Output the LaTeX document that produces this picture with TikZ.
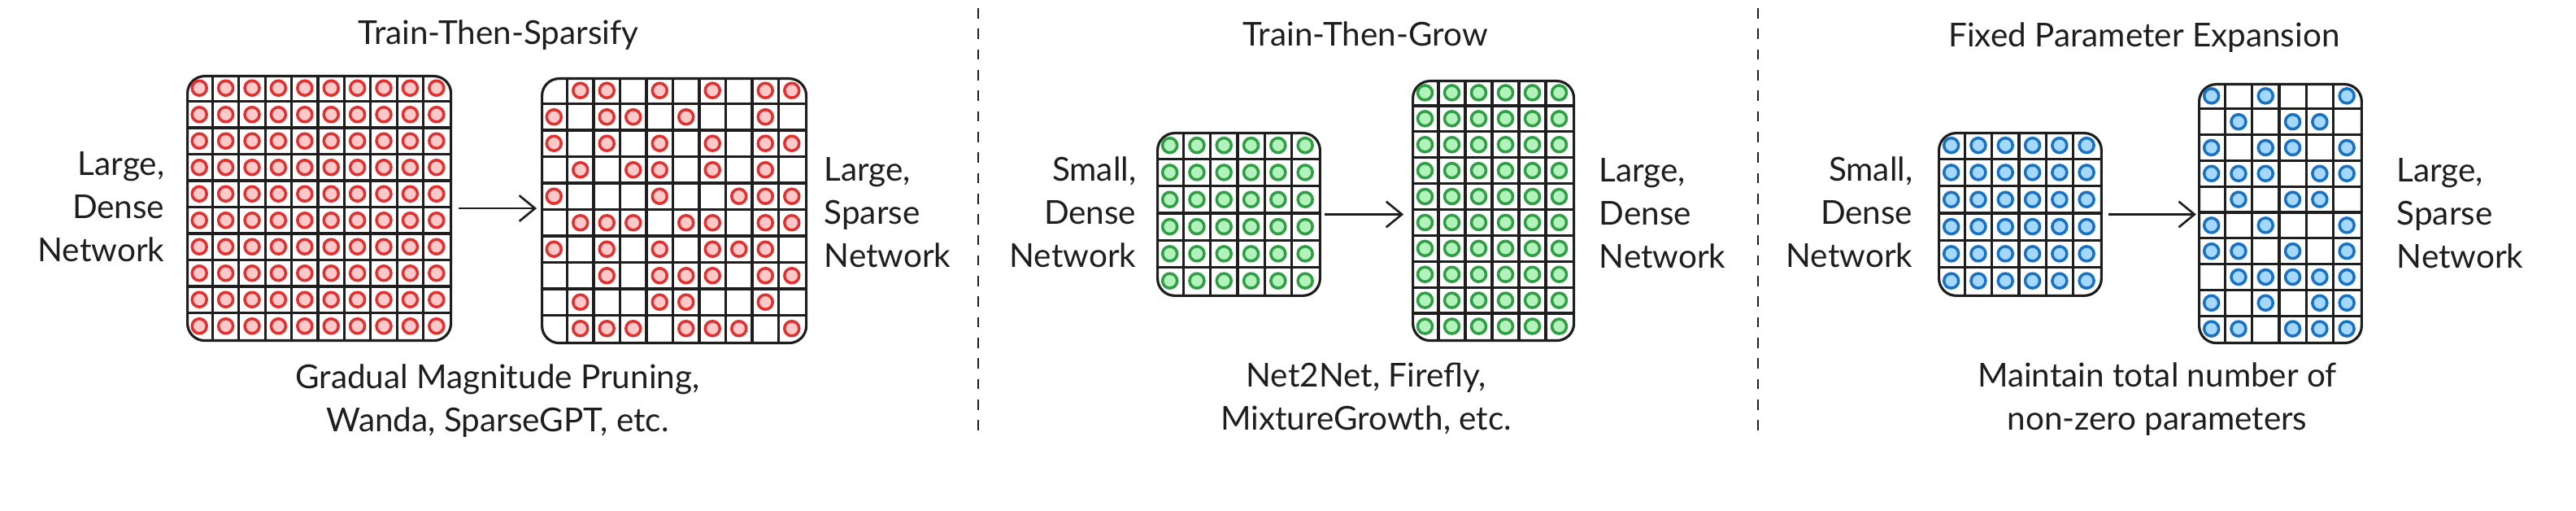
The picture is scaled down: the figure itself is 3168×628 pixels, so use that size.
\documentclass[tikz,border=0pt]{standalone}
\usepackage{fontspec}
\setmainfont{Lato}
\usetikzlibrary{arrows.meta,calc}
\definecolor{redS}{HTML}{E03131}
\definecolor{redF}{HTML}{FFC9C9}
\definecolor{grnS}{HTML}{2F9E44}
\definecolor{grnF}{HTML}{B2F2BB}
\definecolor{bluS}{HTML}{1971C2}
\definecolor{bluF}{HTML}{A5D8FF}
\definecolor{ink}{HTML}{1E1E1E}

\newcommand{\gridnet}[7]{%
  \node[netbox, anchor=north west, minimum width={#4*#6*0.01cm}, minimum height={#5*#7*0.01cm}] (#1) at (#2,#3) {};
  \pgfmathtruncatemacro\gnA{#4-1}%
  \pgfmathtruncatemacro\gnB{#5-1}%
  \foreach \i in {1,...,\gnA} \draw[gridline] ({#2+\i*#6},#3) -- ({#2+\i*#6},{#3+#5*#7});
  \foreach \j in {1,...,\gnB} \draw[gridline] (#2,{#3+\j*#7}) -- ({#2+#4*#6},{#3+\j*#7});
}
\newcommand{\densedots}[7]{%
  \foreach \r in {1,...,#4} \foreach \c in {1,...,#3}
    \draw[#7] ({#1+(\c-0.5)*#5},{#2+(\r-0.5)*#6}) circle[radius=9];
}
\newcommand{\sparsedots}[6]{%
  \foreach \r/\cl in {#6} \foreach \c in \cl
    \draw[#5] ({#1+(\c-0.5)*#3},{#2+(\r-0.5)*#4}) circle[radius=9];
}

\tikzset{
  netbox/.style={draw=ink, fill=white, line width=0.9pt, rounded corners=6pt, inner sep=0pt},
  gridline/.style={draw=ink, line width=0.95pt},
  rdot/.style={draw=redS, fill=redF, line width=1pt},
  gdot/.style={draw=grnS, fill=grnF, line width=1pt},
  bdot/.style={draw=bluS, fill=bluF, line width=1pt},
  arr/.style={draw=ink, line width=0.75pt, -{Straight Barb[length=5.5pt,width=9pt]}},
  lbl/.style={font=\fontsize{11.5}{15.1}\selectfont, text=ink, inner sep=0pt},
  divider/.style={draw=ink, line width=0.75pt, dash pattern=on 3.6pt off 3.6pt},
}

\begin{document}
\begin{tikzpicture}[x=0.01cm, y=-0.01cm]
\useasboundingbox (0,0) rectangle (3168,628);

% dividers
\draw[divider] (1203,10) -- (1203,531);
\draw[divider] (2162,10) -- (2162,531);

% ---------- Panel 1 ----------
\node[lbl, anchor=base] (t1) at (613,55) {Train-Then-Sparsify};
\gridnet{d1}{229}{92}{10}{10}{32.4}{32.5}
\densedots{229}{92}{10}{10}{32.4}{32.5}{rdot}
\gridnet{s1}{665}{95}{10}{10}{32.5}{32.5}
\sparsedots{665}{95}{32.5}{32.5}{rdot}{
 1/{2,3,5,7,9,10}, 2/{1,3,4,6,9}, 3/{1,3,5,7,9,10}, 4/{2,4,5,7,9},
 5/{1,5,8,9,10}, 6/{2,3,4,6,7,9,10}, 7/{1,3,5,7,8,9}, 8/{3,5,6,7,9,10},
 9/{2,5,6,9}, 10/{2,3,4,6,7,8,10}}
\draw[arr, shorten <=2.2pt, shorten >=1.4pt] (d1.east) -- (d1.east -| s1.west);
\node[lbl, anchor=east, align=right] (l1) at (203,254) {Large,\\Dense\\Network};
\node[lbl, anchor=west, align=left] (r1) at (1013,261) {Large,\\Sparse\\Network};
\node[lbl, align=center] (b1t) at (612,493) {Gradual Magnitude Pruning,\\Wanda, SparseGPT, etc.};

% ---------- Panel 2 ----------
\node[lbl, anchor=base] (t2) at (1679,57) {Train-Then-Grow};
\gridnet{g1}{1422}{162}{6}{6}{33.3}{33.3}
\densedots{1422}{162}{6}{6}{33.3}{33.3}{gdot}
\gridnet{g2}{1736}{98}{6}{10}{33}{31.9}
\densedots{1736}{98}{6}{10}{33}{31.9}{gdot}
\draw[arr, shorten <=1.2pt, shorten >=2.8pt] (g1.east) -- (g1.east -| g2.west);
\node[lbl, anchor=east, align=right] (l2) at (1398,261) {Small,\\Dense\\Network};
\node[lbl, anchor=west, align=left] (r2) at (1966,262) {Large,\\Dense\\Network};
\node[lbl, align=center] (b2t) at (1680,490) {Net2Net, Firefly,\\MixtureGrowth, etc.};

% ---------- Panel 3 ----------
\node[lbl, anchor=base] (t3) at (2637,58) {Fixed Parameter Expansion};
\gridnet{u1}{2383}{162}{6}{6}{33.3}{33.3}
\densedots{2383}{162}{6}{6}{33.3}{33.3}{bdot}
\gridnet{u2}{2703}{102}{6}{10}{33.3}{31.8}
\sparsedots{2703}{102}{33.3}{31.8}{bdot}{
 1/{1,3,6}, 2/{2,4,5}, 3/{1,3,4,6}, 4/{1,2,3,5,6}, 5/{2,4,5},
 6/{1,3,6}, 7/{1,2,4,6}, 8/{2,3,4,5,6}, 9/{1,3,5,6}, 10/{1,2,4,5,6}}
\draw[arr, shorten <=2pt, shorten >=0.6pt] (u1.east) -- (u1.east -| u2.west);
\node[lbl, anchor=east, align=right] (l3) at (2353,261) {Small,\\Dense\\Network};
\node[lbl, anchor=west, align=left] (r3) at (2947,262) {Large,\\Sparse\\Network};
\node[lbl, align=center] (b3t) at (2653,491) {Maintain total number of\\non-zero parameters};
\end{tikzpicture}
\end{document}
